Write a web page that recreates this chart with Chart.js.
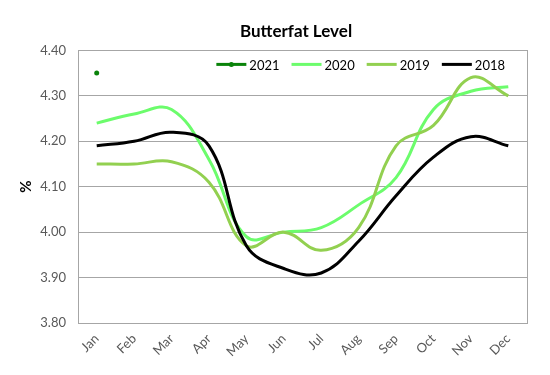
<!DOCTYPE html>
<html>
<head>
<meta charset="utf-8">
<script src="https://cdn.jsdelivr.net/npm/chart.js@4/dist/chart.umd.min.js"></script>
<style>
  html, body { margin: 0; padding: 0; background: #fff; }
  #wrap { width: 550px; height: 375px; }
</style>
</head>
<body>
<div id="wrap"><canvas id="fatChart"></canvas></div>
<script>
// Chart data
const months = ['Jan', 'Feb', 'Mar', 'Apr', 'May', 'Jun', 'Jul', 'Aug', 'Sep', 'Oct', 'Nov', 'Dec'];
const years = ['2021', '2020', '2019', '2018'];
const fat2021 = [4.35, null, null, null, null, null, null, null, null, null, null, null];
const fat2020 = [4.24, 4.26, 4.27, 4.16, 3.99, 4.00, 4.01, 4.06, 4.12, 4.27, 4.31, 4.32];
const fat2019 = [4.15, 4.15, 4.155, 4.11, 3.97, 4.00, 3.96, 4.01, 4.19, 4.235, 4.34, 4.30];
const fat2018 = [4.19, 4.20, 4.22, 4.19, 3.97, 3.92, 3.91, 3.98, 4.08, 4.165, 4.21, 4.19];
const yTicks = [3.80, 3.90, 4.00, 4.10, 4.20, 4.30, 4.40];

const colors = ['#0A830A', '#6CFC6C', '#92D050', '#000000'];
const FONT = 'Lato, "Liberation Sans", sans-serif';
const gridColor = '#A6A6A6';

// plot area border, title shift, and the legend that sits inside the plot
const plotFrame = {
    id: 'plotFrame',
    afterLayout(chart) {
        const t = chart.titleBlock;
        if (t) { t.left += 42; t.right += 23; }
    },
    afterDatasetsDraw(chart) {
        const a = chart.chartArea;
        const ctx = chart.ctx;
        ctx.save();
        ctx.strokeStyle = gridColor;
        ctx.lineWidth = 1;
        ctx.strokeRect(Math.round(a.left) + 0.5, Math.round(a.top) + 0.5,
            Math.round(a.right - a.left), Math.round(a.bottom - a.top));

        // legend, drawn right to left
        ctx.font = '13px ' + FONT;
        ctx.textBaseline = 'middle';
        ctx.textAlign = 'left';
        const y = a.top + 14;
        let x = a.right - 22;
        for (let i = years.length - 1; i >= 0; i--) {
            const w = ctx.measureText(years[i]).width;
            x -= w;
            ctx.fillStyle = '#000';
            ctx.fillText(years[i], x, y + 1);
            x -= 3;
            ctx.fillStyle = colors[i];
            ctx.fillRect(x - 30, y - 1.5, 30, 3);
            if (i === 0) {
                ctx.beginPath();
                ctx.arc(x - 15, y, 2.5, 0, Math.PI * 2);
                ctx.fill();
            }
            x -= 30 + 12;
        }
        ctx.restore();
    }
};

const seriesData = [fat2021, fat2020, fat2019, fat2018];
const datasets = years.map((yr, i) => ({
    label: yr,
    data: seriesData[i],
    borderColor: colors[i],
    backgroundColor: colors[i],
    borderWidth: 3,
    pointRadius: i === 0 ? 2.5 : 0,
    pointBorderWidth: 0,
    pointHoverRadius: 0,
    tension: 0.4,
    fill: false,
    order: 3 - i // black drawn on top
}));

const ctx = document.getElementById('fatChart').getContext('2d');
const fatChart = new Chart(ctx, {
    type: 'line',
    data: { labels: months, datasets: datasets },
    plugins: [plotFrame],
    options: {
        responsive: true,
        maintainAspectRatio: false,
        animation: false,
        layout: { padding: { left: 0, right: 23, top: 0, bottom: 0 } },
        scales: {
            x: {
                offset: true,
                grid: { display: false, drawTicks: false },
                border: { display: false },
                ticks: {
                    color: '#595959',
                    font: { family: FONT, size: 13 },
                    maxRotation: 45,
                    minRotation: 45,
                    padding: 8
                },
                afterFit(scale) { scale.height = 52; }
            },
            y: {
                min: 3.8,
                max: 4.4,
                afterBuildTicks(scale) { scale.ticks = yTicks.map(v => ({ value: v })); },
                grid: { color: gridColor, drawTicks: false },
                border: { display: false },
                ticks: {
                    color: '#595959',
                    font: { family: FONT, size: 13 },
                    padding: 12,
                    callback: v => Number(v).toFixed(2)
                },
                title: {
                    display: true,
                    text: '%',
                    color: '#000',
                    font: { family: FONT, size: 15, weight: 'bold' },
                    padding: { top: 17, bottom: 0 }
                },
                afterFit(scale) { scale.width = 78; }
            }
        },
        plugins: {
            title: {
                display: true,
                text: 'Butterfat Level',
                color: '#000',
                font: { family: FONT, size: 17, weight: 'bold' },
                padding: { top: 21, bottom: 9 }
            },
            legend: { display: false },
            tooltip: { enabled: false }
        }
    }
});
</script>
</body>
</html>
